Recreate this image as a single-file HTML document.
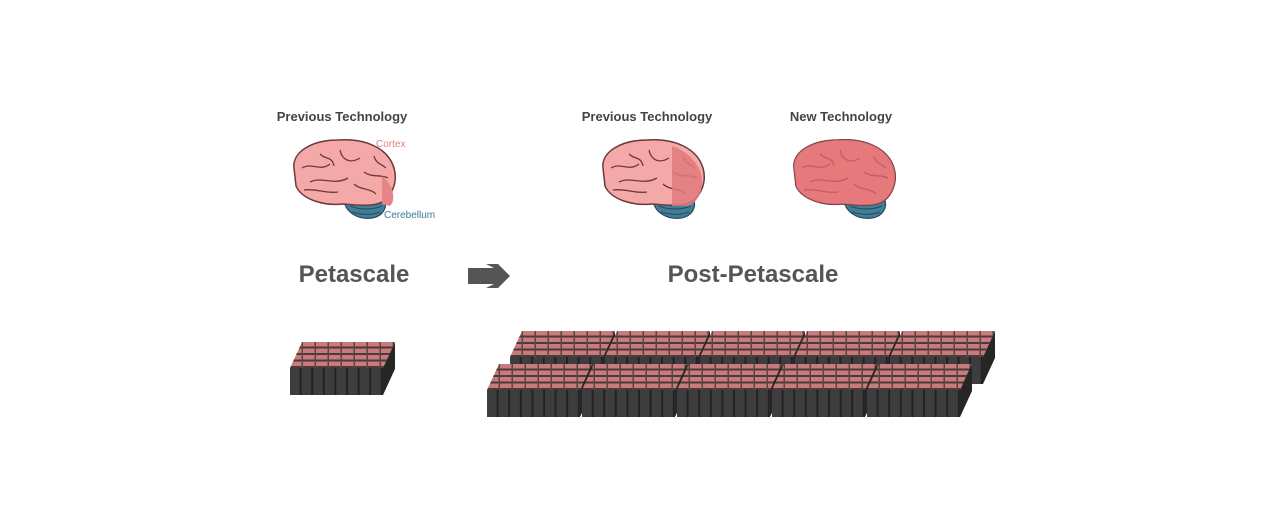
<!DOCTYPE html>
<html><head><style>
body{margin:0;background:#fff;}
svg{display:block}
text{font-family:"Liberation Sans",Arial,sans-serif;}
</style></head><body>
<svg width="1280" height="512" viewBox="0 0 1280 512" xmlns="http://www.w3.org/2000/svg">
<defs>
<pattern id="tg" width="13" height="6.5" patternUnits="userSpaceOnUse">
<rect width="13" height="6.5" fill="#c97a7c"/>
<rect y="4.5" width="13" height="2" fill="#4a3a3a"/>
<rect x="11.5" width="1.5" height="6.5" fill="#5a4444"/>
</pattern>
<pattern id="fg" width="11.6" height="30" patternUnits="userSpaceOnUse">
<rect width="11.6" height="30" fill="#3d3d3d"/>
<rect x="9.6" width="2" height="30" fill="#222"/>
</pattern>
<g id="blk">
<polygon points="12,0 105,0 93,26 0,26" fill="url(#tg)"/>
<rect x="0" y="26" width="93" height="27" fill="url(#fg)"/>
<polygon points="93,26 105,0 105,27 93,53" fill="#262626"/>
</g>
<g id="cb">
<path d="M54,60 C54,74 68,82 82,80 C94,78 98,68 94,60 Z" fill="#3f7f99" stroke="#2a4a5a" stroke-width="1.2"/>
<path d="M60,68 C70,72 82,72 92,68 M62,74 C72,77 82,77 90,74" fill="none" stroke="#2a4a5a" stroke-width="1"/>
</g>
<g id="brain">
<use href="#cb"/>
<path d="M4,30 C2,14 22,2 48,2 C75,0 98,10 104,30 C108,44 102,58 92,64 C80,70 62,66 52,66 C35,68 12,62 6,48 Z" fill="#f4a9a8" stroke="#6a3a3a" stroke-width="1.5"/>
<path d="M12,30 C22,24 30,34 40,26 M20,44 C32,38 44,48 58,40 M50,12 C52,22 60,26 70,20 M74,34 C82,40 90,36 98,40 M30,16 C36,22 42,18 44,28 M64,46 C70,52 80,50 86,56 M84,18 C86,26 92,26 96,30 M14,52 C26,50 36,56 48,54" fill="none" stroke="#6a3a3a" stroke-width="1.3"/>
</g>
</defs>

<text x="342" y="121" font-size="13" font-weight="bold" fill="#444" text-anchor="middle">Previous Technology</text>
<text x="647" y="121" font-size="13" font-weight="bold" fill="#444" text-anchor="middle">Previous Technology</text>
<text x="841" y="121" font-size="13" font-weight="bold" fill="#444" text-anchor="middle">New Technology</text>

<use href="#brain" transform="translate(290,138)"/>
<path d="M382,176 C394,186 396,200 390,206 L382,204 Z" fill="#e58585"/>
<text x="376" y="147" font-size="10" fill="#e08080">Cortex</text>
<text x="384" y="218" font-size="10" fill="#3a7a98">Cerebellum</text>

<use href="#brain" transform="translate(599,138)"/>
<path d="M672,146 C690,152 704,168 702,186 C700,198 694,204 688,206 L672,206 Z" fill="#e07a7c" opacity="0.85"/>
<use href="#brain" transform="translate(790,138)"/>
<path d="M794,168 C792,152 812,140 838,140 C865,138 888,148 894,168 C898,182 892,196 882,202 C870,208 852,204 842,204 C825,206 802,200 796,186 Z" fill="#e06a6c" opacity="0.75"/>

<text x="354" y="282" font-size="24" font-weight="bold" fill="#555" text-anchor="middle">Petascale</text>
<text x="753" y="282" font-size="24" font-weight="bold" fill="#555" text-anchor="middle">Post-Petascale</text>

<polygon points="468,268 494,268 486,264 498,264 510,276 498,288 486,288 494,284 468,284" fill="#555"/>

<use href="#blk" transform="translate(290,342)"/>

<g transform="translate(510,331)">
<use href="#blk" x="0"/><use href="#blk" x="95"/><use href="#blk" x="190"/><use href="#blk" x="285"/><use href="#blk" x="380"/>
</g>
<g transform="translate(487,364)">
<use href="#blk" x="0"/><use href="#blk" x="95"/><use href="#blk" x="190"/><use href="#blk" x="285"/><use href="#blk" x="380"/>
</g>
</svg>
</body></html>
